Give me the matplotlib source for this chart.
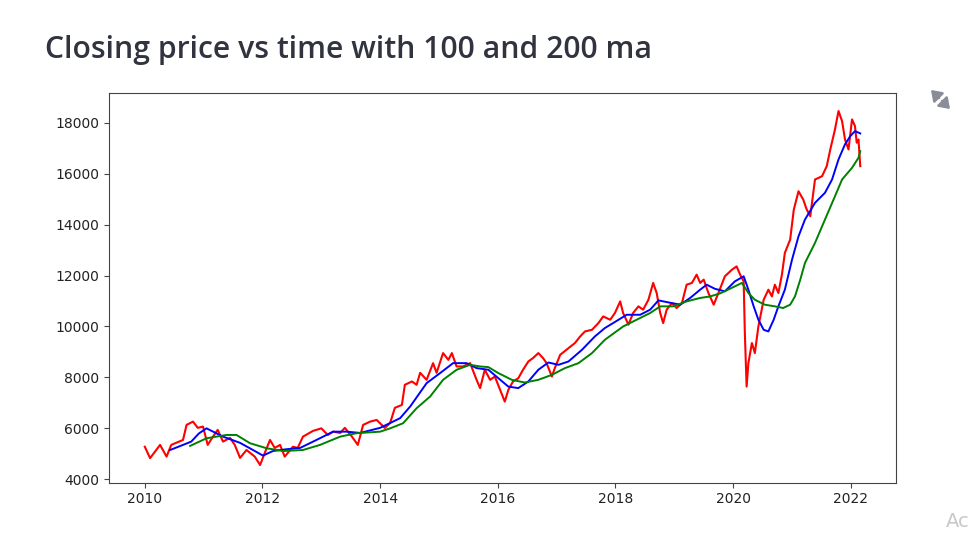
import matplotlib
matplotlib.use("Agg")
import matplotlib.pyplot as plt
from matplotlib.patches import FancyArrowPatch
import numpy as np
import pandas as pd

# closing price (decimal year, value)
close_years = [2010.00, 2010.09, 2010.26, 2010.37, 2010.45, 2010.65, 2010.71, 2010.82, 2010.90, 2010.99,
               2011.07, 2011.16, 2011.24, 2011.33, 2011.45, 2011.53, 2011.62, 2011.73, 2011.87, 2011.96,
               2012.04, 2012.13, 2012.21, 2012.30, 2012.38, 2012.52, 2012.60, 2012.69, 2012.86, 2013.00,
               2013.11, 2013.20, 2013.32, 2013.40, 2013.52, 2013.62, 2013.71, 2013.83, 2013.94, 2014.08,
               2014.17, 2014.25, 2014.37, 2014.42, 2014.54, 2014.62, 2014.68, 2014.79, 2014.90, 2014.96,
               2015.07, 2015.16, 2015.22, 2015.30, 2015.41, 2015.53, 2015.64, 2015.70, 2015.78, 2015.87,
               2015.95, 2016.04, 2016.12, 2016.18, 2016.26, 2016.35, 2016.43, 2016.52, 2016.60, 2016.69,
               2016.77, 2016.83, 2016.92, 2016.97, 2017.06, 2017.20, 2017.31, 2017.40, 2017.48, 2017.60,
               2017.71, 2017.79, 2017.91, 2017.99, 2018.08, 2018.13, 2018.22, 2018.30, 2018.39, 2018.47,
               2018.56, 2018.64, 2018.70, 2018.76, 2018.81, 2018.87, 2018.96, 2019.04, 2019.13, 2019.21,
               2019.30, 2019.38, 2019.44, 2019.50, 2019.58, 2019.67, 2019.75, 2019.86, 2019.98, 2020.06,
               2020.12, 2020.18, 2020.20, 2020.23, 2020.26, 2020.32, 2020.37, 2020.43, 2020.52, 2020.60,
               2020.66, 2020.71, 2020.77, 2020.83, 2020.88, 2020.97, 2021.03, 2021.11, 2021.19, 2021.25,
               2021.31, 2021.39, 2021.51, 2021.59, 2021.65, 2021.73, 2021.79, 2021.85, 2021.90, 2021.96,
               2022.02, 2022.07, 2022.10, 2022.13, 2022.16]
close_vals = [5280, 4830, 5350, 4890, 5350, 5545, 6135, 6265, 6020, 6070,
              5350, 5675, 5940, 5480, 5625, 5350, 4840, 5150, 4890, 4560,
              5030, 5545, 5230, 5350, 4890, 5280, 5230, 5675, 5900, 6000,
              5740, 5870, 5820, 6020, 5675, 5350, 6135, 6265, 6330, 6015,
              6210, 6805, 6920, 7710, 7840, 7710, 8180, 7905, 8560, 8180,
              8955, 8690, 8955, 8430, 8430, 8560, 7905, 7580, 8300, 7905,
              8035, 7510, 7050, 7510, 7840, 7970, 8300, 8625, 8760, 8955,
              8760, 8560, 8035, 8365, 8890, 9150, 9350, 9610, 9805, 9870,
              10135, 10395, 10265, 10530, 10985, 10530, 10070, 10530, 10790, 10660,
              11050, 11710, 11315, 10530, 10135, 10660, 10920, 10725, 10920, 11640,
              11710, 12035, 11710, 11840, 11315, 10855, 11315, 11970, 12230, 12360,
              12035, 11770, 9740, 7640, 8560, 9350, 8955, 10000, 11050, 11445,
              11180, 11640, 11315, 12035, 12890, 13410, 14590, 15310, 14985, 14590,
              14330, 15770, 15900, 16295, 16950, 17740, 18460, 18065, 17345, 16950,
              18130, 17870, 17215, 17345, 16295]

# 100 day moving average
ma100_years = [2010.43, 2010.65, 2010.79, 2010.92, 2011.05, 2011.33, 2011.62, 2011.84, 2012.01, 2012.18,
               2012.41, 2012.64, 2012.92, 2013.20, 2013.43, 2013.66, 2014.00, 2014.34, 2014.51, 2014.79,
               2015.02, 2015.24, 2015.47, 2015.64, 2015.84, 2016.01, 2016.18, 2016.35, 2016.52, 2016.69,
               2016.86, 2017.03, 2017.20, 2017.43, 2017.65, 2017.82, 2017.96, 2018.19, 2018.42, 2018.59,
               2018.73, 2018.90, 2019.10, 2019.27, 2019.44, 2019.55, 2019.69, 2019.86, 2020.03, 2020.18,
               2020.26, 2020.35, 2020.43, 2020.52, 2020.60, 2020.69, 2020.77, 2020.88, 2021.00, 2021.11,
               2021.22, 2021.39, 2021.56, 2021.68, 2021.79, 2021.90, 2021.99, 2022.07, 2022.16]
ma100_vals = [5150, 5350, 5480, 5800, 6000, 5675, 5430, 5150, 4930, 5110,
              5180, 5230, 5545, 5870, 5870, 5820, 6020, 6400, 6855, 7775,
              8170, 8560, 8560, 8365, 8300, 7970, 7640, 7580, 7840, 8300,
              8585, 8495, 8625, 9085, 9610, 9940, 10135, 10460, 10460, 10660,
              11025, 10945, 10855, 11120, 11445, 11640, 11480, 11380, 11770, 11970,
              11445, 10790, 10265, 9870, 9805, 10265, 10790, 11445, 12625, 13540,
              14200, 14855, 15250, 15770, 16560, 17150, 17475, 17670, 17580]

# 200 day moving average
ma200_years = [2010.77, 2011.05, 2011.39, 2011.56, 2011.79, 2012.07, 2012.35, 2012.69, 2012.98, 2013.32,
               2013.60, 2014.00, 2014.17, 2014.39, 2014.62, 2014.85, 2015.07, 2015.30, 2015.53, 2015.70,
               2015.84, 2016.01, 2016.24, 2016.46, 2016.69, 2016.92, 2017.14, 2017.37, 2017.60, 2017.82,
               2018.13, 2018.36, 2018.59, 2018.76, 2018.98, 2019.21, 2019.44, 2019.61, 2019.78, 2020.03,
               2020.15, 2020.26, 2020.37, 2020.54, 2020.71, 2020.85, 2020.97, 2021.05, 2021.14, 2021.22,
               2021.39, 2021.56, 2021.73, 2021.85, 2022.02, 2022.13, 2022.16]
ma200_vals = [5310, 5610, 5740, 5740, 5415, 5220, 5110, 5150, 5350, 5675,
              5810, 5870, 6000, 6200, 6790, 7250, 7905, 8300, 8495, 8430,
              8405, 8170, 7905, 7800, 7905, 8100, 8365, 8560, 8955, 9480,
              10000, 10265, 10530, 10790, 10790, 10985, 11120, 11180, 11300, 11575,
              11710, 11315, 11050, 10855, 10790, 10725, 10855, 11180, 11840, 12495,
              13280, 14200, 15115, 15770, 16230, 16625, 16885]

title = "Closing price vs time with 100 and 200 ma"


def to_dates(years):
    years = np.asarray(years)
    whole = np.floor(years).astype(int)
    starts = pd.to_datetime([f"{y}-01-01" for y in whole])
    return starts + pd.to_timedelta((years - whole) * 365.25, unit="D")


def px(x, y):
    # pixel position in the screenshot -> figure fraction
    return x / 975, 1 - y / 536


def main():
    fig = plt.figure(figsize=(9.75, 5.36), dpi=100)
    ax = fig.add_axes([0.1118, 0.0994, 0.8072, 0.7265])

    ax.plot(to_dates(close_years), close_vals, color="r", lw=1.5)
    ax.plot(to_dates(ma100_years), ma100_vals, color="b", lw=1.4)
    ax.plot(to_dates(ma200_years), ma200_vals, color="g", lw=1.4)

    for s in ax.spines.values():
        s.set_color("#444444")
    ax.tick_params(colors="#444444", labelcolor="#222222", labelsize=10)

    t = fig.text(*px(45, 58), title, fontsize=22, fontweight="semibold",
                 family=["Open Sans", "DejaVu Sans"], color="#31333F", va="baseline")
    fig.canvas.draw()
    w = t.get_window_extent().width
    t.set_fontsize(22 * 603 / w)

    # streamlit fullscreen icon
    for a, b in [((939, 98), (931, 90)), ((942, 101), (950, 109))]:
        fig.add_artist(FancyArrowPatch(px(*a), px(*b), transform=fig.transFigure,
                                       arrowstyle="-|>,head_length=0.5,head_width=0.35",
                                       mutation_scale=12, shrinkA=0, shrinkB=0,
                                       color="#8a8d97", lw=1.8))
    # watermark at the bottom right
    fig.text(*px(946, 527), "Ac", fontsize=14, color="#c8c8c8", ha="left", va="baseline")

    fig.savefig("out.png", dpi=100)


if __name__ == "__main__":
    main()
